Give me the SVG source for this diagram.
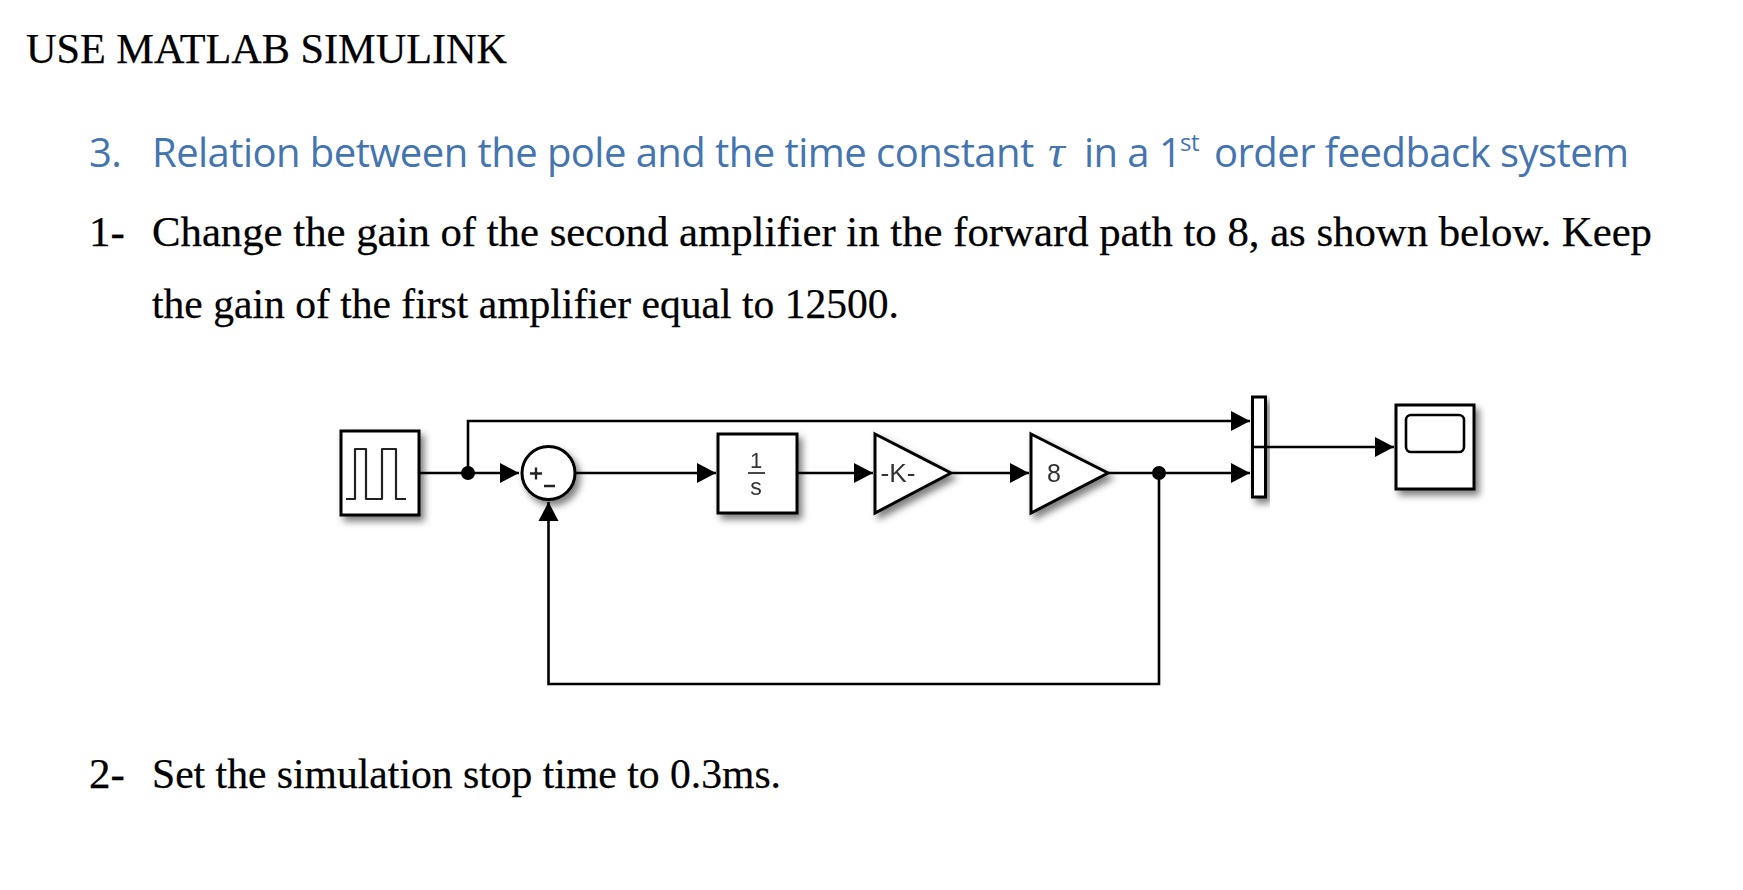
<svg xmlns="http://www.w3.org/2000/svg" width="1743" height="890" viewBox="0 0 1743 890">
<defs>
<style>
.body{font-family:"Liberation Serif","Times New Roman",serif;font-size:43px;fill:#000;stroke:#000;stroke-width:.25}
.head{font-family:"Open Sans","Noto Sans",sans-serif;font-size:40px;letter-spacing:-0.55px;fill:#4475b0}
.blk{fill:#fff;stroke:#000;stroke-width:3}
.wire{fill:none;stroke:#000;stroke-width:2.600}
.lbl{font-family:"Liberation Sans",Arial,sans-serif;fill:#333;text-anchor:middle}
</style>
<filter id="sh" x="-20%" y="-20%" width="150%" height="150%"><feDropShadow dx="4" dy="5" stdDeviation="3.500" flood-color="#000" flood-opacity="0.500"/></filter>
<filter id="soft" filterUnits="userSpaceOnUse" x="300" y="370" width="1220" height="340"><feGaussianBlur stdDeviation="0.500"/></filter>
<marker id="arr" markerUnits="userSpaceOnUse" markerWidth="20" markerHeight="22" refX="19" refY="11" orient="auto"><path d="M0 1L19 11L0 21Z" fill="#000"/></marker>
</defs>
<rect width="1743" height="890" fill="#fff"/>
<g id="text">
<text class="body" x="26" y="63" textLength="481" lengthAdjust="spacingAndGlyphs">USE MATLAB SIMULINK</text>
<text class="head" x="89" y="167">3.<tspan x="152">Relation between the pole and the time constant</tspan><tspan x="1048" style="font-family:'Liberation Serif',serif;font-style:italic;font-size:47px">τ</tspan><tspan x="1084">in a 1</tspan><tspan x="1180" y="151" style="font-size:24px">st</tspan><tspan x="1214" y="167">order feedback system</tspan></text>
<text class="body" x="89" y="246">1-</text>
<text class="body" x="152" y="246" textLength="1500" lengthAdjust="spacingAndGlyphs">Change the gain of the second amplifier in the forward path to 8, as shown below. Keep</text>
<text class="body" x="152" y="318" textLength="747" lengthAdjust="spacingAndGlyphs">the gain of the first amplifier equal to 12500.</text>
<text class="body" x="89" y="788">2-</text>
<text class="body" x="152" y="788" textLength="629" lengthAdjust="spacingAndGlyphs">Set the simulation stop time to 0.3ms.</text>
</g>
<g filter="url(#soft)">
<g id="connectors">
<path class="wire" d="M419 473H519" marker-end="url(#arr)"/>
<path class="wire" d="M468 473V421H1250" marker-end="url(#arr)"/>
<path class="wire" d="M576 473H716" marker-end="url(#arr)"/>
<path class="wire" d="M797 473H873" marker-end="url(#arr)"/>
<path class="wire" d="M952 473H1029" marker-end="url(#arr)"/>
<path class="wire" d="M1108 473H1250" marker-end="url(#arr)"/>
<path class="wire" d="M1159 473V684H548.500V502" marker-end="url(#arr)"/>
<path class="wire" d="M1252 447H1394" marker-end="url(#arr)"/>
<circle cx="468" cy="473" r="7"/>
<circle cx="1159" cy="473" r="7"/>
</g>
<g id="pulse"><rect class="blk" x="341" y="431" width="78" height="84" filter="url(#sh)"/><path d="M346 499H355V449H366V499H382V449H396V499H406" fill="none" stroke="#222" stroke-width="2.200" stroke-linejoin="round"/></g>
<g id="sum"><circle class="blk" cx="548.500" cy="473" r="26.500" filter="url(#sh)"/><path d="M530 473.500h12M536 467.500v12M544 486h11" stroke="#222" stroke-width="2.400" fill="none"/></g>
<g id="integrator"><rect class="blk" x="718" y="434" width="79" height="79" filter="url(#sh)"/><text class="lbl" x="756" y="468" font-size="22">1</text><path d="M748 473H765" stroke="#333" stroke-width="1.800"/><text class="lbl" x="756" y="495" font-size="23">s</text></g>
<g id="gain-k"><path class="blk" d="M875 434L951 473L875 513Z" filter="url(#sh)"/><text class="lbl" x="898" y="482" font-size="26" textLength="35" lengthAdjust="spacingAndGlyphs">-K-</text></g>
<g id="gain-8"><path class="blk" d="M1031 434L1108 473L1031 513Z" filter="url(#sh)"/><text class="lbl" x="1054" y="482" font-size="25">8</text></g>
<g id="mux"><rect class="blk" x="1252.500" y="397" width="13" height="100" filter="url(#sh)"/><path class="wire" d="M1252 447H1266"/></g>
<g id="scope"><rect class="blk" x="1396" y="405" width="78" height="84" filter="url(#sh)"/><rect x="1406" y="415" width="58" height="37" rx="5" fill="#fff" stroke="#000" stroke-width="2.600"/></g>
</g>
</svg>
